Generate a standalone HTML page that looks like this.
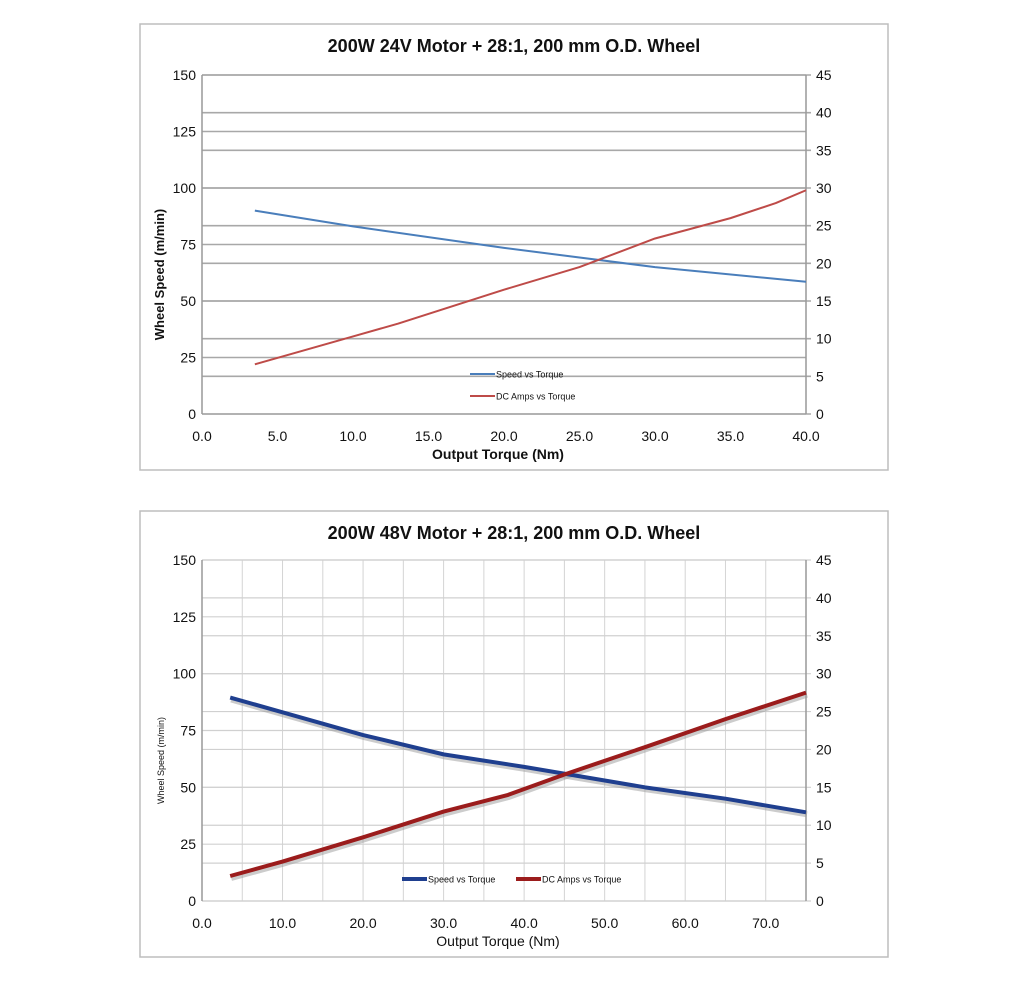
<!DOCTYPE html>
<html><head><meta charset="utf-8"><style>
html,body{margin:0;padding:0;background:#fff;width:1024px;height:983px;overflow:hidden}
svg{position:absolute;left:0;top:0}
text{font-family:"Liberation Sans",sans-serif;fill:#111}
</style></head><body>
<svg id="s" width="1024" height="983"></svg>
<script>
const c1Torque=[3.5,10,20,30,40];
const c1Speed=[90,83,73.5,65,58.5];
const c1AmpTorque=[3.5,10,13,20,25,30,35,38,40];
const c1Amps=[6.6,10.3,12,16.5,19.5,23.3,26,28,29.7];
const c1XTicks=[0,5,10,15,20,25,30,35,40];
const c2Torque=[3.5,10,20,30,40,50,55,65,75];
const c2Speed=[89.5,83,73,64.5,59,53,50,45,39];
const c2AmpTorque=[3.5,10,20,30,38,45,55,65,75];
const c2Amps=[3.3,5.2,8.4,11.8,14,16.7,20.3,24,27.5];
const c2XTicks=[0,10,20,30,40,50,60,70];
const leftTicks=[0,25,50,75,100,125,150];
const rightTicks=[0,5,10,15,20,25,30,35,40,45];
const NS='http://www.w3.org/2000/svg';
const svg=document.getElementById('s');
function el(tag,attrs,parent,txt){const e=document.createElementNS(NS,tag);for(const k in attrs)e.setAttribute(k,attrs[k]);if(txt!==undefined)e.textContent=txt;(parent||svg).appendChild(e);return e;}
function chart(o){
  const g=el('g',{});
  
  
  const fr=el('rect',{x:o.fx,y:o.fy,width:748,height:446,fill:'#fff',stroke:'#bdbdbd','stroke-width':1.5},g);
  
  const L=202,R=806,T=o.top,B=o.bot;
  const xs=v=>L+(v/o.xmax)*(R-L);
  const ysL=v=>B-(v/150)*(B-T);
  const ysR=v=>B-(v/45)*(B-T);
  if(o.vgrid){for(let v=5;v<=o.xmax;v+=5){const l=el('line',{x1:xs(v),x2:xs(v),y1:T,y2:B,stroke:'#d4d4d4','stroke-width':1},g);}}
  leftTicks.forEach(v=>{const l=el('line',{x1:L,x2:R,y1:ysL(v),y2:ysL(v),stroke:o.hcol,'stroke-width':o.hw},g);
    const t=el('text',{x:L-6,y:ysL(v)+5,'text-anchor':'end','font-size':14},g,v);});
  rightTicks.forEach(v=>{const l=el('line',{x1:L,x2:R+5,y1:ysR(v),y2:ysR(v),stroke:o.hcol,'stroke-width':o.hw},g);
    const t=el('text',{x:R+10,y:ysR(v)+5,'font-size':14},g,v);});
  el('line',{x1:L,x2:L,y1:T,y2:B,stroke:'#999','stroke-width':1.5},g);
  el('line',{x1:R,x2:R,y1:T,y2:B,stroke:'#999','stroke-width':1.5},g);
  o.xticks.forEach(v=>{const t=el('text',{x:xs(v),y:B+27,'text-anchor':'middle','font-size':14},g,v.toFixed(1));});
  const ti=el('text',{x:514,y:o.fy+28,'text-anchor':'middle','font-size':18,'font-weight':'bold'},g,o.title);
  const xt=el('text',{x:498,y:B+45,'text-anchor':'middle','font-size':14,'font-weight':o.xbold?'bold':'normal'},g,'Output Torque (Nm)');
  const yt=el('text',{x:0,y:0,'text-anchor':'middle','font-size':o.ytSize,'font-weight':o.xbold?'bold':'normal',transform:`translate(${o.ytx},${(T+B)/2+30}) rotate(-90)`},g,'Wheel Speed (m/min)');
  const p1=c=>o.tq.map((t,i)=>xs(t)+','+ysL(o.sp[i])).join(' ');
  const p2=()=>o.atq.map((t,i)=>xs(t)+','+ysR(o.am[i])).join(' ');
  if(o.shadow){el('polyline',{points:p1(),fill:'none',stroke:'#999','stroke-width':o.lw+2,transform:'translate(1,2)',opacity:0.5},g);el('polyline',{points:p2(),fill:'none',stroke:'#999','stroke-width':o.lw+2,transform:'translate(1,2)',opacity:0.5},g);}
  const s1=el('polyline',{points:p1(),fill:'none',stroke:o.c1,'stroke-width':o.lw,'stroke-linejoin':'round'},g);
  const s2=el('polyline',{points:p2(),fill:'none',stroke:o.c2,'stroke-width':o.lw,'stroke-linejoin':'round'},g);
  o.legend.forEach(le=>{const lg=el('g',{},g);
    el('line',{x1:le.x,x2:le.x+25,y1:le.y,y2:le.y,stroke:le.c,'stroke-width':o.lw},lg);
    el('text',{x:le.x+26,y:le.y+3.5,'font-size':9},lg,le.t);});
}
chart({name:'chart-24v',fx:140,fy:24,top:75,bot:414,xmax:40,xticks:c1XTicks,hcol:'#a8a8a8',hw:1.6,vgrid:false,title:'200W 24V Motor + 28:1, 200 mm O.D. Wheel',xbold:true,ytSize:13,ytx:164,
  tq:c1Torque,sp:c1Speed,atq:c1AmpTorque,am:c1Amps,c1:'#4a7ebb',c2:'#be4b48',lw:2,shadow:false,
  legend:[{x:470,y:374,c:'#4a7ebb',t:'Speed vs Torque'},{x:470,y:396,c:'#be4b48',t:'DC Amps vs Torque'}]});
chart({name:'chart-48v',fx:140,fy:511,top:560,bot:901,xmax:75,xticks:c2XTicks,hcol:'#d0d0d0',hw:1.2,vgrid:true,title:'200W 48V Motor + 28:1, 200 mm O.D. Wheel',xbold:false,ytSize:9,ytx:164,
  tq:c2Torque,sp:c2Speed,atq:c2AmpTorque,am:c2Amps,c1:'#1f3f8f',c2:'#9b1c1c',lw:4,shadow:true,
  legend:[{x:402,y:879,c:'#1f3f8f',t:'Speed vs Torque'},{x:516,y:879,c:'#9b1c1c',t:'DC Amps vs Torque'}]});
</script>
</body></html>
